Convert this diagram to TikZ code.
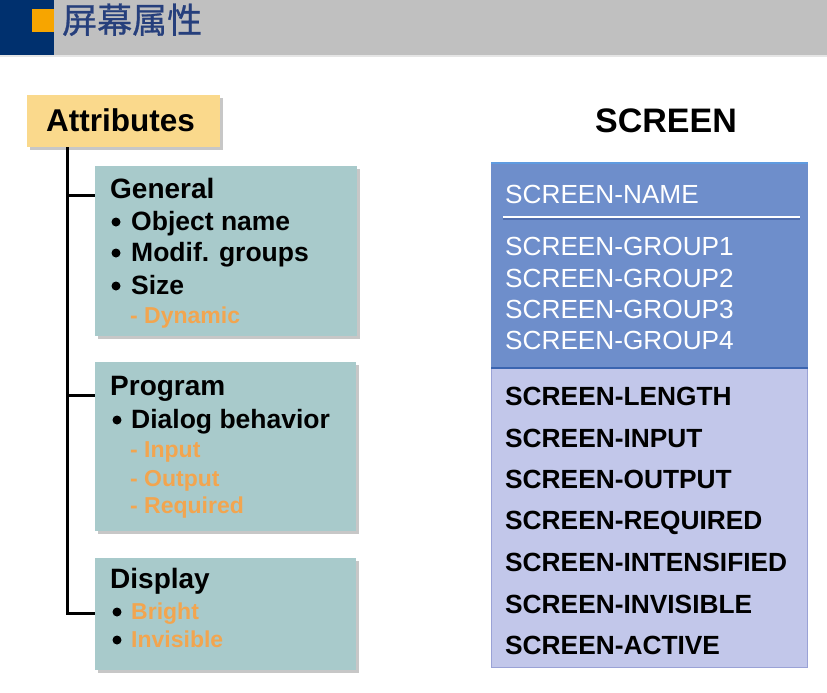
\documentclass[tikz,border=0pt]{standalone}
\usepackage{fontspec}
\setmainfont{Liberation Sans}
\newfontfamily\cjk[FakeBold=0.8]{Noto Sans CJK SC}
\usetikzlibrary{shadows}
\definecolor{hdrgray}{HTML}{C0C0C0}
\definecolor{hdrnavy}{HTML}{00306E}
\definecolor{hdrorange}{HTML}{F7A500}
\definecolor{titlenavy}{HTML}{263F7C}
\definecolor{attrfill}{HTML}{FAD98C}
\definecolor{tealc}{HTML}{A8CACB}
\definecolor{orangetxt}{HTML}{F2A54F}
\definecolor{blueboxc}{HTML}{6E8ECB}
\definecolor{blueedge}{HTML}{5F9BE0}
\definecolor{bluebottom}{HTML}{3A64B0}
\definecolor{lavc}{HTML}{C2C7EA}
\definecolor{lavedge}{HTML}{9AA2D6}
\definecolor{sepshadow}{HTML}{4F6DAE}
\begin{document}
\begin{tikzpicture}[x=1pt,y=-1pt,
  boxshadow/.style={drop shadow={shadow xshift=2.5pt,shadow yshift=-2.5pt,fill=black!22,opacity=1}},
  tealbox/.style={fill=tealc, anchor=north west, inner sep=0pt, boxshadow},
  head/.style={anchor=base west, inner sep=0pt, font=\bfseries\fontsize{28}{32}\selectfont},
  item/.style={anchor=base west, inner sep=0pt, font=\bfseries\fontsize{26.5}{30}\selectfont},
  sub/.style={anchor=base west, inner sep=0pt, text=orangetxt, font=\bfseries\fontsize{23}{27}\selectfont},
  dot/.style={circle, fill=black, inner sep=0pt, minimum size=9pt},
  wtxt/.style={anchor=base west, inner sep=0pt, text=white, font=\fontsize{26.2}{30}\selectfont},
  btxt/.style={anchor=base west, inner sep=0pt, font=\bfseries\fontsize{26.3}{30}\selectfont},
  conn/.style={line width=3pt, draw=black}
]
\useasboundingbox (0,0) rectangle (827,693);
\fill[white] (0,0) rectangle (827,693);

% header
\fill[hdrgray] (0,0) rectangle (827,55);
\fill[black!10] (0,55) rectangle (827,57);
\fill[hdrnavy] (0,0) rectangle (54,55);
\fill[hdrorange] (32,9) rectangle (54,32);
\node[anchor=base west, inner sep=0pt, text=titlenavy, font=\cjk\fontsize{35}{38}\selectfont] (title) at (62,33) {屏幕属性};

% Attributes
\node[fill=attrfill, anchor=north west, inner sep=0pt, minimum width=193pt, minimum height=52pt, boxshadow] (attr) at (27,95) {};
\node[anchor=base west, inner sep=0pt, font=\bfseries\fontsize{31.5}{35}\selectfont] (attrt) at (46,131) {Attributes};

% boxes
\node[tealbox, minimum width=262pt, minimum height=170pt] (gen) at (95,166) {};
\node[tealbox, minimum width=261pt, minimum height=169pt] (prog) at (95,362) {};
\node[tealbox, minimum width=261pt, minimum height=112pt] (disp) at (95,558) {};

% connectors
\coordinate (trunk) at (67,147);
\coordinate (gb) at (95,195);
\coordinate (pb) at (95,395);
\coordinate (db) at (95,613);
\draw[conn] (trunk) |- (gb);
\draw[conn] (trunk) |- (pb);
\draw[conn] (trunk) |- (db);

% General
\node[head] (g0) at (110,198) {General};
\node[dot] (gb1) at (116,222) {};
\node[item] (g1) at (131,230) {Object name};
\node[dot] (gb2) at (116,253) {};
\node[item] (g2) at (131,261) {Modif. groups};
\node[dot] (gb3) at (116,286) {};
\node[item] (g3) at (131,294) {Size};
\node[sub] (g4) at (130,323) {- Dynamic};

% Program
\node[head] (p0) at (110,395) {Program};
\node[dot] (pb1) at (117,420) {};
\node[item] (p1) at (131,428) {Dialog behavior};
\node[sub] (p2) at (130,457) {- Input};
\node[sub] (p3) at (130,486) {- Output};
\node[sub] (p4) at (130,513) {- Required};

% Display
\node[head] (d0) at (110,588) {Display};
\node[dot] (db1) at (117,612) {};
\node[sub] (d1) at (131,619) {Bright};
\node[dot] (db2) at (117,640) {};
\node[sub] (d2) at (131,647) {Invisible};

% SCREEN
\node[anchor=base, inner sep=0pt, font=\bfseries\fontsize{34}{38}\selectfont] (scr) at (666,132) {SCREEN};

\node[fill=lavc, draw=lavedge, line width=1pt, anchor=north west, inner sep=0pt, minimum width=316pt, minimum height=299pt] (lb) at (491,368) {};
\node[fill=blueboxc, anchor=north west, inner sep=0pt, minimum width=317pt, minimum height=205pt] (sb) at (491,163) {};
\draw[blueedge, line width=1.5pt] (sb.north west) -- (sb.north east);
\draw[bluebottom, line width=2pt] (sb.south west) -- (sb.south east);

\coordinate (sepl) at (503,217);
\coordinate (sepr) at (800,217);
\draw[sepshadow, line width=1.5pt] ([yshift=-2pt]sepl) -- ([yshift=-2pt]sepr);
\draw[white, line width=2.5pt] (sepl) -- (sepr);

\node[wtxt] (s0) at (505,203) {SCREEN-NAME};
\node[wtxt] (s1) at (505,255) {SCREEN-GROUP1};
\node[wtxt] (s2) at (505,287) {SCREEN-GROUP2};
\node[wtxt] (s3) at (505,318) {SCREEN-GROUP3};
\node[wtxt] (s4) at (505,349) {SCREEN-GROUP4};

\node[btxt] (l1) at (505,405) {SCREEN-LENGTH};
\node[btxt] (l2) at (505,447) {SCREEN-INPUT};
\node[btxt] (l3) at (505,488) {SCREEN-OUTPUT};
\node[btxt] (l4) at (505,529) {SCREEN-REQUIRED};
\node[btxt] (l5) at (505,571) {SCREEN-INTENSIFIED};
\node[btxt] (l6) at (505,613) {SCREEN-INVISIBLE};
\node[btxt] (l7) at (505,654) {SCREEN-ACTIVE};
\end{tikzpicture}
\end{document}
